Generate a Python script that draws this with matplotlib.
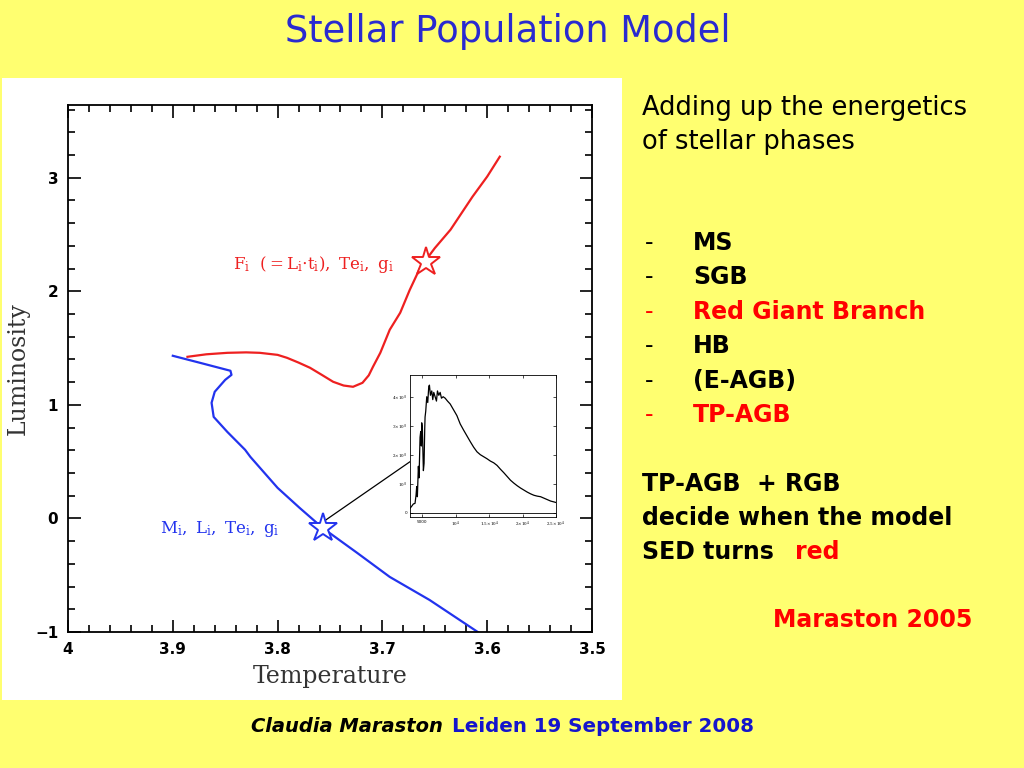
import matplotlib.pyplot as plt
from matplotlib.patches import Rectangle
from matplotlib.ticker import MultipleLocator, FixedLocator

# --- data ---
# red track (log Te, log L)
red_T = [3.886, 3.868, 3.848, 3.830, 3.817, 3.800, 3.791, 3.780, 3.769, 3.758,
         3.747, 3.737, 3.728, 3.719, 3.713, 3.709, 3.702, 3.693, 3.683, 3.674,
         3.664, 3.650, 3.635, 3.614, 3.600, 3.588]
red_L = [1.423, 1.445, 1.458, 1.462, 1.458, 1.440, 1.414, 1.372, 1.326, 1.265,
         1.203, 1.170, 1.159, 1.194, 1.260, 1.335, 1.458, 1.661, 1.811, 2.010,
         2.207, 2.380, 2.542, 2.833, 3.010, 3.185]
# blue track
blue_T = [3.900, 3.874, 3.845, 3.844, 3.850, 3.860, 3.863, 3.861, 3.848, 3.831,
          3.826, 3.800, 3.779, 3.757, 3.724, 3.693, 3.655, 3.609]
blue_L = [1.432, 1.370, 1.300, 1.264, 1.220, 1.115, 1.018, 0.894, 0.762, 0.604,
          0.542, 0.269, 0.093, -0.084, -0.304, -0.515, -0.718, -1.000]
star_red = (3.658, 2.26)
star_blue = (3.757, -0.08)

# inset SED (wavelength, flux in arbitrary units)
sed_x = [3200, 3450, 3700, 3950, 4100, 4200, 4300, 4450, 4550, 4700, 4800, 4900,
         4950, 5050, 5150, 5200, 5300, 5400, 5450, 5550, 5700, 5850, 6000, 6100,
         6250, 6450, 6600, 6750, 6950, 7150, 7300, 7500, 7700, 7900, 8150, 8450,
         8800, 9200, 9700, 10200, 10700, 11200, 11700, 12200, 12700, 13200, 13700,
         14200, 14700, 15200, 15700, 16200, 16700, 17200, 17700, 18200, 18700,
         19200, 19700, 20200, 20700, 21200, 21700, 22200, 22700, 23200, 23700,
         24200, 24700, 25000]
sed_y = [0.15, 0.22, 0.30, 0.32, 0.60, 0.90, 0.55, 1.60, 1.20, 2.60, 2.80, 2.30,
         3.10, 2.90, 1.90, 1.45, 1.70, 2.90, 3.30, 3.50, 4.00, 3.80, 4.35, 4.40,
         4.05, 4.20, 3.90, 4.15, 4.00, 3.85, 4.20, 4.05, 4.15, 3.95, 4.00, 3.95,
         3.85, 3.75, 3.55, 3.35, 3.06, 2.85, 2.65, 2.45, 2.26, 2.10, 2.00, 1.93,
         1.86, 1.78, 1.72, 1.63, 1.50, 1.38, 1.25, 1.12, 1.02, 0.93, 0.85, 0.78,
         0.71, 0.65, 0.60, 0.57, 0.55, 0.50, 0.45, 0.40, 0.37, 0.35]
sed_xticks = [5000, 10000, 15000, 20000, 25000]
sed_xlabels = ['5000', r'$10^4$', r'$1.5{\times}10^4$', r'$2{\times}10^4$', r'$2.5{\times}10^4$']
sed_yticks = [0, 1, 2, 3, 4]
sed_ylabels = ['0', r'$10^8$', r'$2{\times}10^8$', r'$3{\times}10^8$', r'$4{\times}10^8$']

bullets = ['MS', 'SGB', 'Red Giant Branch', 'HB', '(E-AGB)', 'TP-AGB']
bullet_colors = ['black', 'black', 'red', 'black', 'black', 'red']

W, H = 1024, 768
YELLOW = '#ffff70'
RED = '#ee2020'
BLUE = '#2233ee'
TBLUE = '#2a2ad0'

plt.rcParams['mathtext.fontset'] = 'dejavuserif'

fig = plt.figure(figsize=(W / 100, H / 100), dpi=100, facecolor=YELLOW)

def fx(px):
    return px / W

def fy(py):
    return 1 - py / H

# white panel holding the plot
fig.patches.append(Rectangle((fx(2), fy(700)), fx(620), 622 / H, transform=fig.transFigure,
                             facecolor='white', edgecolor='none', zorder=-10))

# main HR diagram
ax = fig.add_axes([fx(68), fy(632), fx(592 - 68), (632 - 105) / H])
ax.set_facecolor('white')
ax.plot(red_T, red_L, color=RED, lw=1.6)
ax.plot(blue_T, blue_L, color=BLUE, lw=1.6)
ax.plot(*star_red, marker='*', ms=21, mfc='white', mec=RED, mew=1.4, zorder=5)
ax.plot(*star_blue, marker='*', ms=21, mfc='white', mec=BLUE, mew=1.4, zorder=5)
ax.set_xlim(4, 3.5)
ax.set_ylim(-1, 3.64)
ax.xaxis.set_major_locator(FixedLocator([4, 3.9, 3.8, 3.7, 3.6, 3.5]))
ax.xaxis.set_minor_locator(MultipleLocator(0.02))
ax.yaxis.set_major_locator(FixedLocator([-1, 0, 1, 2, 3]))
ax.yaxis.set_minor_locator(MultipleLocator(0.2))
ax.set_xticklabels(['4', '3.9', '3.8', '3.7', '3.6', '3.5'])
ax.set_yticklabels(['\u22121', '0', '1', '2', '3'])
ax.tick_params(which='both', direction='in', top=True, right=True, width=1.2)
ax.tick_params(which='major', length=9, labelsize=11, pad=7)
ax.tick_params(which='minor', length=5)
for lab in ax.get_xticklabels() + ax.get_yticklabels():
    lab.set_fontweight('bold')
for s in ax.spines.values():
    s.set_linewidth(1.3)
ax.set_xlabel('Temperature', family='DejaVu Serif', fontsize=17, color='#333333', labelpad=6)
ax.set_ylabel('Luminosity', family='DejaVu Serif', fontsize=17, color='#333333', labelpad=4)

ax.text(3.843, 2.24, r'$\mathrm{F_i\ \ ({=}L_i{\cdot}t_i),\ Te_i,\ g_i}$', color=RED,
        fontsize=12, ha='left', va='center')
ax.text(3.912, -0.09, r'$\mathrm{M_i,\ L_i,\ Te_i,\ g_i}$', color=BLUE,
        fontsize=12, ha='left', va='center')

# connector from the blue star to the inset
ax.plot([3.755, 3.672], [-0.02, 0.51], color='black', lw=0.9, zorder=4)

# inset SED
ins = fig.add_axes([fx(410), fy(517), fx(556 - 410), (517 - 375) / H])
ins.plot(sed_x, sed_y, color='black', lw=0.9)
ins.axhline(0, color='black', lw=0.6)
ins.set_xlim(3200, 25000)
ins.set_ylim(-0.15, 4.75)
ins.set_xticks(sed_xticks)
ins.set_xticklabels(sed_xlabels)
ins.set_yticks(sed_yticks)
ins.set_yticklabels(sed_ylabels)
ins.tick_params(direction='in', top=True, right=True, labelsize=3, length=2, width=0.5, pad=2)
for s in ins.spines.values():
    s.set_linewidth(0.6)

# slide title
fig.text(fx(508), fy(32), 'Stellar Population Model', color=TBLUE, fontsize=26.5,
         ha='center', va='center')

# right-hand text
fig.text(fx(642), fy(108), 'Adding up the energetics', fontsize=18.5, va='center')
fig.text(fx(642), fy(142), 'of stellar phases', fontsize=18.5, va='center')
for i, (b, c) in enumerate(zip(bullets, bullet_colors)):
    y = 243 + i * 34.4
    fig.text(fx(645), fy(y), '-', fontsize=17, color=c, va='center')
    fig.text(fx(693), fy(y), b, fontsize=17, color=c, weight='bold', va='center')

fig.text(fx(642), fy(484), 'TP-AGB  + RGB', fontsize=17, weight='bold', va='center')
fig.text(fx(642), fy(518), 'decide when the model', fontsize=17, weight='bold', va='center')
fig.text(fx(642), fy(552), 'SED turns', fontsize=17, weight='bold', va='center')
fig.text(fx(795), fy(552), 'red', fontsize=17, weight='bold', color='red', va='center')
fig.text(fx(972), fy(620), 'Maraston 2005', fontsize=17, weight='bold', color='red',
         ha='right', va='center')

# footer
fig.text(fx(443), fy(727), 'Claudia Maraston', fontsize=14, weight='bold', style='italic',
         ha='right', va='center')
fig.text(fx(452), fy(727), 'Leiden 19 September 2008', fontsize=14.3, weight='bold',
         color='#1515cc', ha='left', va='center')

fig.savefig('out.png', dpi=100, facecolor=YELLOW)
